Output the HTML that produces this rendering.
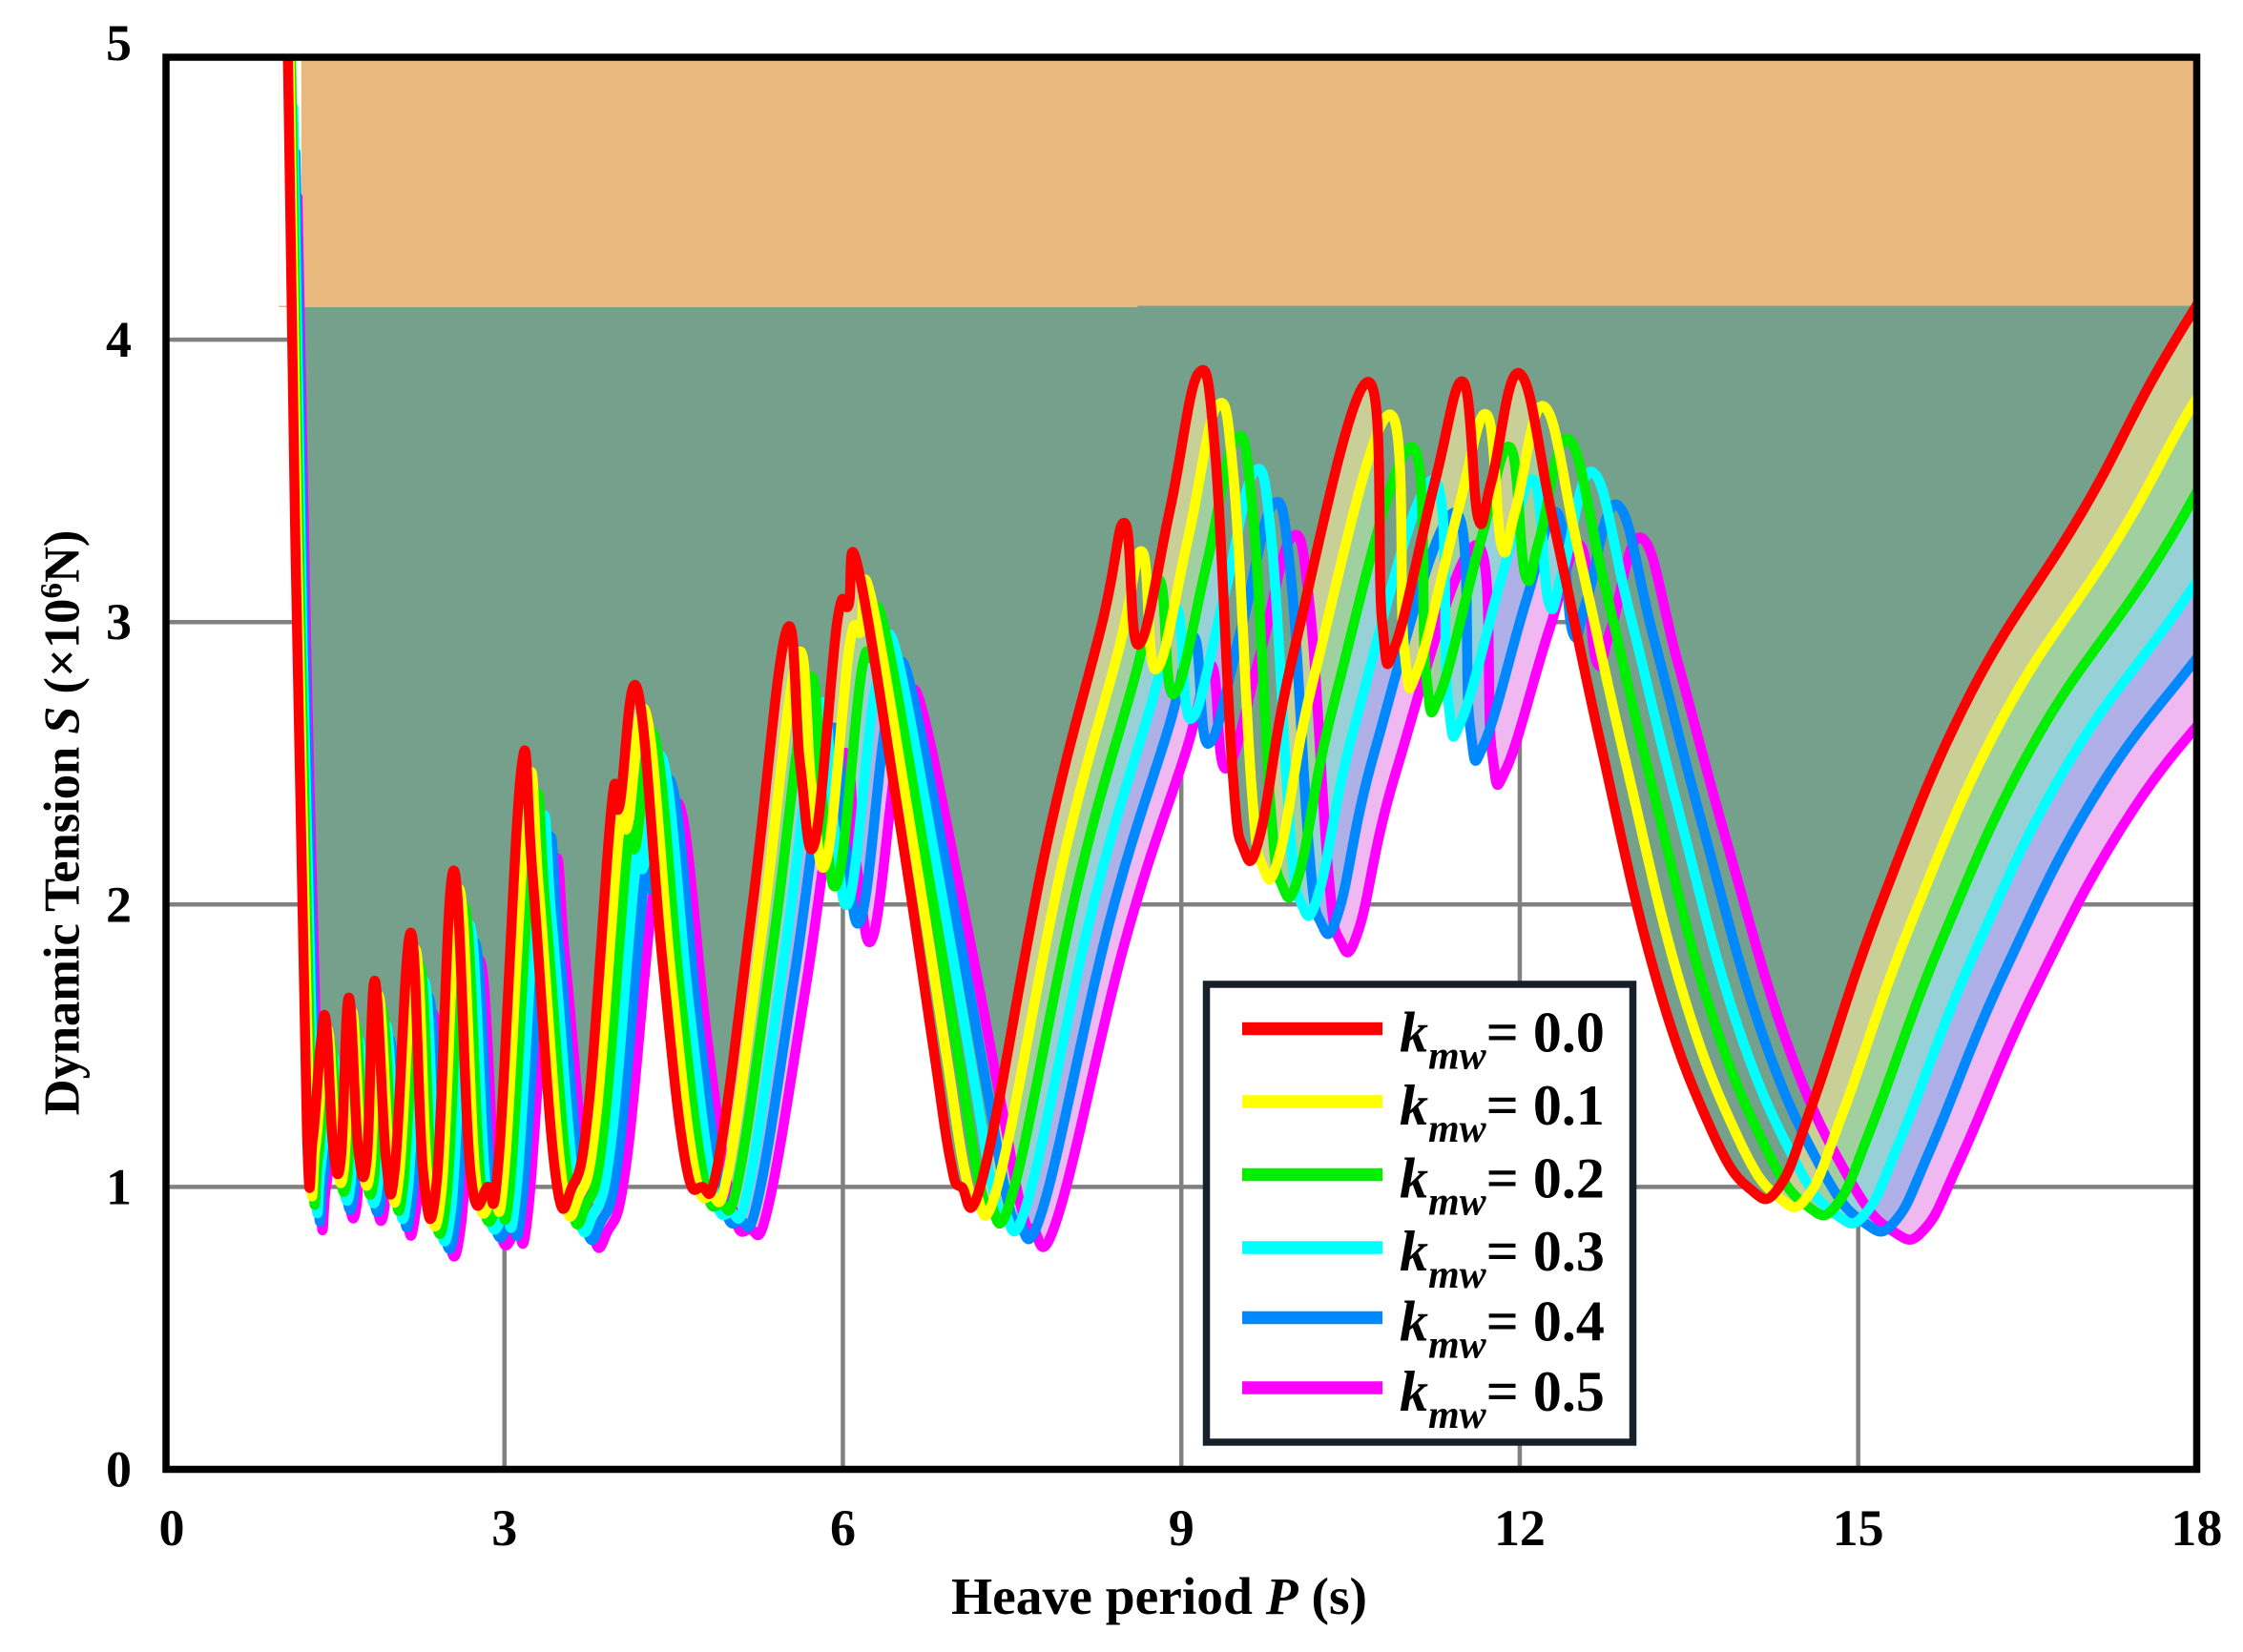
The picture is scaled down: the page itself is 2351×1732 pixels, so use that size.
<!DOCTYPE html>
<html><head><meta charset="utf-8"><style>
html,body{margin:0;padding:0;background:#fff}
svg{display:block}
text{font-family:"Liberation Serif",serif;font-weight:bold;fill:#000}
</style></head><body>
<svg id="s" width="2351" height="1732" viewBox="0 0 1567.33 1154.67" preserveAspectRatio="none" xmlns="http://www.w3.org/2000/svg">
<defs><clipPath id="c"><rect x="116" y="40" width="1419" height="987"/></clipPath></defs>
<g id="grid" stroke="#808080" stroke-width="3"></g>
<g id="fills" clip-path="url(#c)"></g>
<g id="lines" clip-path="url(#c)" fill="none" stroke-width="7" stroke-linejoin="round" stroke-linecap="round"></g>
<rect x="116" y="40" width="1419" height="987" fill="none" stroke="#000" stroke-width="5"/>
<g id="lab"></g>
<text x="810" y="1128" font-size="37" text-anchor="middle">Heave period <tspan font-style="italic">P</tspan> (s)</text>
<text transform="translate(55,575) rotate(-90)" font-size="35" text-anchor="middle">Dynamic Tension <tspan font-style="italic">S</tspan>  (×10<tspan font-size="22" dy="-12">6</tspan><tspan dy="12">N)</tspan></text>
<rect x="843" y="688" width="298" height="320" fill="#fff" stroke="#17202a" stroke-width="5"/>
<g id="leg"></g>
</svg>
<script>
var NS="http://www.w3.org/2000/svg";
function X(x){return 116+x*78.83}
function Y(y){return 1027-y*197.4}
function el(p,t,a,txt){var e=document.createElementNS(NS,t);for(var k in a)e.setAttribute(k,a[k]);if(txt!==undefined)e.textContent=txt;p.appendChild(e);return e}
var g=document.getElementById('grid');
for(var i=3;i<18;i+=3)el(g,'line',{x1:X(i),y1:40,x2:X(i),y2:1027});
for(var j=1;j<5;j++)el(g,'line',{x1:116,y1:Y(j),x2:1535,y2:Y(j)});
var lab=document.getElementById('lab');
for(var i=0;i<=18;i+=3)el(lab,'text',{x:X(i)+(i==0?4:0),y:1080,'font-size':36,'text-anchor':'middle'},String(i));
for(var j=0;j<=5;j++)el(lab,'text',{x:92,y:Y(j)+(j==5?2:12),'font-size':36,'text-anchor':'end'},String(j));
var R=[[1.07,5.3],[1.15,3.2],[1.25,1.2],[1.3,1.17],[1.37,1.5],[1.42,1.58],[1.48,1.15],[1.55,1.1],[1.62,1.67],[1.70,1.15],[1.78,1.1],[1.85,1.73],[1.95,1.1],[2.03,1.07],[2.17,1.9],[2.28,1.05],[2.4,1.02],[2.55,2.12],[2.7,1.05],[2.85,1.0],[2.95,1.1],[3.15,2.48],[3.25,2.1],[3.45,1.05],[3.6,1.0],[3.75,1.3],[3.95,2.35],[4.02,2.35],[4.18,2.76],[4.4,1.8],[4.6,1.1],[4.75,1.0],[4.9,1.1],[5.2,2.0],[5.5,2.97],[5.62,2.5],[5.75,2.22],[5.95,3.0],[6.05,3.06],[6.13,3.2],[6.5,2.3],[6.8,1.5],[6.95,1.1],[7.05,1.0],[7.25,1.05],[7.8,2.2],[8.3,3.0],[8.5,3.35],[8.62,2.92],[8.9,3.4],[9.15,3.88],[9.3,3.6],[9.45,2.5],[9.55,2.2],[9.7,2.25],[10.0,2.9],[10.65,3.85],[10.78,3.0],[10.9,2.92],[11.25,3.5],[11.5,3.85],[11.63,3.37],[11.75,3.5],[12.0,3.88],[12.3,3.35],[12.7,2.6],[13.2,1.75],[13.7,1.2],[14.05,0.99],[14.3,1.0],[14.6,1.3],[15.2,2.0],[16.0,2.75],[17.0,3.4],[18,4.12],[20,5.3]];
var cols=['#ff0000','#ffff00','#00ee00','#00ffff','#0088ff','#ff00ff'];
var fillc=['#74a08c','#c8d098','#a0d0a0','#98d0d8','#b0b0e8','#f0b8f0'];
function pts(k){return R.map(function(p){return [X(p[0]*(1+0.18*k)),Y(p[1]*(1-0.3*k))]})}
function smooth(p){var d='M'+p[0][0].toFixed(1)+','+p[0][1].toFixed(1);
 for(var i=0;i<p.length-1;i++){var a=p[Math.max(i-1,0)],b=p[i],c=p[i+1],e=p[Math.min(i+2,p.length-1)];var t=0.2;
  var c1=[b[0]+(c[0]-a[0])*t,b[1]+(c[1]-a[1])*t],c2=[c[0]-(e[0]-b[0])*t,c[1]-(e[1]-b[1])*t];
  d+=' C'+c1[0].toFixed(1)+','+c1[1].toFixed(1)+' '+c2[0].toFixed(1)+','+c2[1].toFixed(1)+' '+c[0].toFixed(1)+','+c[1].toFixed(1);}
 return d;}
var F=document.getElementById('fills'),L=document.getElementById('lines');
el(F,'rect',{x:X(1.2),y:40,width:1535-X(1.2),height:Y(4.12)-40,fill:'#e8b87c'});
for(var k=5;k>=0;k--){var p=pts(k/10);
 var d=smooth(p)+' L1600,'+Y(4.12)+' L'+X(1.15)+','+Y(4.12)+' Z';
 el(F,'path',{d:d,fill:fillc[k]});}
el(F,'rect',{x:X(1.0),y:40,width:600,height:Y(4.12)-40+1,fill:'#e8b87c'});
el(F,'rect',{x:X(1.0),y:40,width:X(1.2)-X(1.0),height:Y(4.12)-40,fill:'#fff'});
el(F,'rect',{x:X(1.2),y:40,width:1535-X(1.2),height:Y(4.12)-40,fill:'#e8b87c'});
for(var k=5;k>=0;k--){var p=pts(k/10);el(L,'path',{d:smooth(p),stroke:cols[k]});}
var lg=document.getElementById('leg');
var ly=[719,770,821,872,921,970];
for(var i=0;i<6;i++){el(lg,'line',{x1:868,x2:966,y1:ly[i],y2:ly[i],stroke:cols[i],'stroke-width':9});
 var t=el(lg,'text',{x:978,y:ly[i]+16,'font-size':40});
 el(t,'tspan',{'font-style':'italic'},'k');el(t,'tspan',{'font-style':'italic','font-size':28,dy:12},'mw');el(t,'tspan',{dy:-12},'= 0.'+i);}
</script>
</body></html>
